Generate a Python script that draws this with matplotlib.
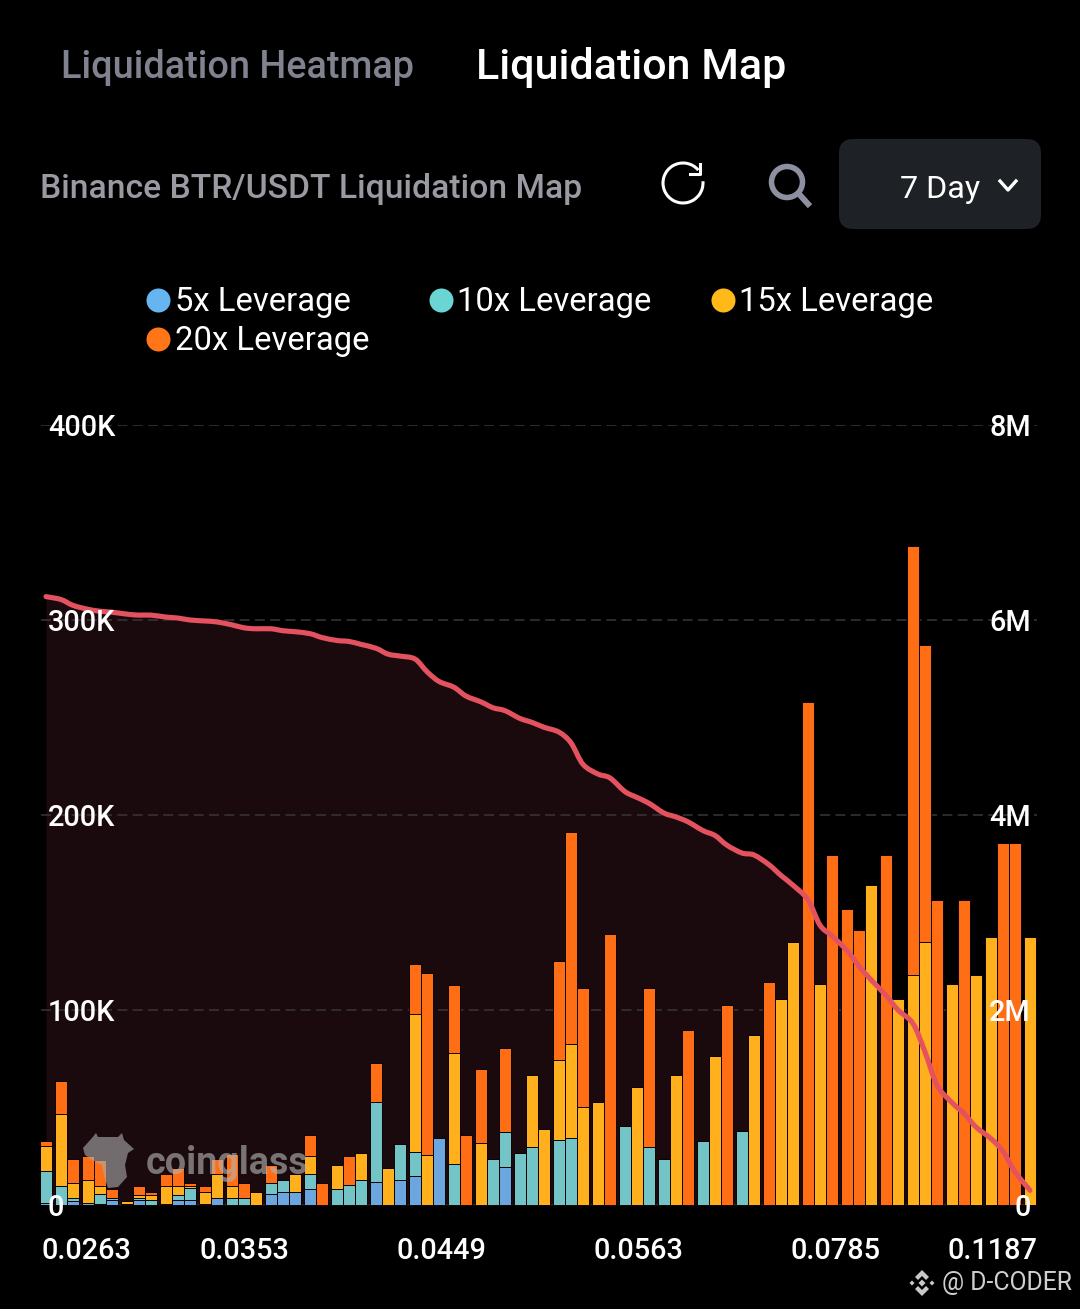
import numpy as np
import matplotlib
matplotlib.use('Agg')
import matplotlib.pyplot as plt
from matplotlib.lines import Line2D
from matplotlib.patches import Arc, Circle, FancyBboxPatch, PathPatch, Polygon
from matplotlib.path import Path

plt.rcParams['font.family'] = ['Roboto', 'DejaVu Sans']

# stack segment heights per price bucket, in thousands
lev5 = [0.9, 0, 2.0, 0.9, 0.7, 2.4, 0, 2.4, 0, 0, 2.4, 2.4, 0, 3.8, 0, 0, 0, 5.5, 6.8, 6.8,
        8.4, 0, 0, 0, 0, 11.6, 0, 13, 14.7, 0, 34.5, 0, 0, 0, 0, 19.3, 0, 0, 0, 0,
        0, 0, 0, 0, 0, 0, 0, 0, 0, 0, 0, 0, 0, 0, 0, 0, 0, 0, 0, 0,
        0, 0, 0, 0, 0, 0, 0, 0, 0, 0, 0, 0, 0, 0, 0, 0]
lev10 = [16.5, 9.7, 1.8, 0, 4.8, 1.4, 0.6, 1.4, 2.4, 0.7, 2.7, 6.1, 0.7, 0, 3.8, 3.8, 0, 6, 6, 0,
         7.7, 0, 8.4, 10.1, 13, 41.4, 0, 18.5, 12.3, 0, 0, 20.9, 0, 0, 23.8, 18.3, 26.8, 29.9, 0, 33.2,
         34.5, 0, 0, 0, 40.7, 0, 29.9, 23.8, 0, 0, 33, 0, 0, 37.7, 0, 0, 0, 0, 0, 0,
         0, 0, 0, 0, 0, 0, 0, 0, 0, 0, 0, 0, 0, 0, 0, 0]
lev15 = [12.7, 37.2, 7.7, 12.1, 4.2, 0, 1.4, 1.3, 2.7, 9, 4.6, 1.2, 6.1, 11.9, 5.9, 0, 6.8, 0, 0, 9.3,
         9, 0, 12.3, 0, 13.7, 0, 19.2, 0, 70.8, 25.5, 0, 56.9, 0, 31.6, 0, 0, 0, 37, 39.2, 41.4,
         47.9, 50.1, 52.8, 0, 0, 60.7, 0, 0, 66.9, 0, 0, 76.2, 0, 0, 87, 0, 105.5, 134.7, 0, 113.2,
         0, 0, 0, 163.9, 0, 105.5, 118, 134.9, 0, 113.2, 0, 118, 137.6, 0, 0, 137.6]
lev20 = [2.7, 16.7, 12.3, 12.1, 13.3, 4.2, 0, 4.6, 1.6, 6, 9.5, 1.8, 2.9, 7.7, 16.6, 7.7, 0, 9.2, 0, 0,
         10.8, 11.5, 0, 15, 0, 19.8, 0, 0, 26, 93.5, 0, 35.2, 36, 38.3, 0, 43.1, 0, 0, 0, 50.7,
         109.1, 61.4, 0, 139.2, 0, 0, 81.6, 0, 0, 89.8, 0, 0, 102.4, 0, 0, 114.6, 0, 0, 257.9, 0,
         179.4, 151.6, 140.8, 0, 179.4, 0, 220, 152.3, 156.2, 0, 156.2, 0, 0, 185.5, 185.5, 0]

# cumulative line, in millions
cumulative = [6.24, 6.21, 6.15, 6.11, 6.09, 6.08, 6.06, 6.05, 6.05, 6.03, 6.02, 6.00, 5.99, 5.98, 5.95, 5.92,
              5.91, 5.91, 5.89, 5.88, 5.86, 5.82, 5.79, 5.78, 5.75, 5.71, 5.65, 5.63, 5.60, 5.47, 5.37, 5.31,
              5.22, 5.16, 5.10, 5.07, 4.99, 4.95, 4.90, 4.85, 4.74, 4.52, 4.42, 4.38, 4.24, 4.18, 4.12, 4.02,
              3.98, 3.93, 3.84, 3.79, 3.69, 3.61, 3.59, 3.49, 3.38, 3.28, 3.13, 2.87, 2.76, 2.61, 2.45, 2.31,
              2.15, 2.00, 1.86, 1.57, 1.23, 1.05, 0.94, 0.80, 0.68, 0.55, 0.34, 0.15]

price_ticks = [3, 15, 30, 45, 60, 72]
price_labels = ['0.0263', '0.0353', '0.0449', '0.0563', '0.0785', '0.1187']
left_ticks = [0, 100, 200, 300, 400]
left_labels = ['0', '100K', '200K', '300K', '400K']
right_ticks = [0, 2, 4, 6, 8]
right_labels = ['0', '2M', '4M', '6M', '8M']
legend_names = ['5x Leverage', '20x Leverage', '10x Leverage', '15x Leverage']

bar_colors = ['#6CA6DE', '#72C4C6', '#FFB01C', '#FF6E14']
legend_colors = ['#66B5F0', '#FF7518', '#6AD5D3', '#FFBA1A']
line_color = '#E5525F'
W, H = 1080, 1309

fig = plt.figure(figsize=(W / 100, H / 100), dpi=100, facecolor='black')

# axes box in image pixels: x 41..1037, y 425..1205
ax = fig.add_axes([41 / W, 1 - 1205 / H, 996 / W, 780 / H], facecolor='black')

# bars sit on whole screen pixels (3 image px each), hence the uneven gaps
i = np.arange(len(lev5))
x = (np.floor(15.975 + 4.365 * i) * 3 + 1)

bottom = np.zeros(len(i))
for vals, col in zip([lev5, lev10, lev15, lev20], bar_colors):
    vals = np.array(vals, dtype=float)
    ax.bar(x, vals, width=12.2, bottom=bottom, color=col, edgecolor='#0c0305', linewidth=0.7, zorder=2)
    bottom += vals

line = np.array(cumulative)
ax.fill_between(x, line * 50, 0, color='#1a0a0d', lw=0, zorder=0.2)
ax.set_xlim(41, 1037)
ax.set_ylim(0, 400)
ax.set_yticks(left_ticks)
ax.set_yticklabels([])
ax.yaxis.grid(True, color='#3a3638', linestyle=(0, (6.5, 3.5)), linewidth=1.1)
ax.set_axisbelow(True)
# labels follow the even band centres, not the snapped bars
ax.set_xticks(47.5 + 13.13 * np.array(price_ticks))
ax.set_xticklabels(price_labels, fontsize=20.8, color='white', fontweight='medium')
ax.tick_params(axis='x', length=0, pad=23)
ax.tick_params(axis='y', length=0)
for s in ax.spines.values():
    s.set_visible(False)

ax2 = ax.twinx()
# smooth line like the original, it still goes through every point
pts = np.column_stack([x, line])
tang = np.gradient(pts, axis=0) / 3
verts = [pts[0]]
codes = [Path.MOVETO]
for k in range(len(pts) - 1):
    verts += [pts[k] + tang[k], pts[k + 1] - tang[k + 1], pts[k + 1]]
    codes += [Path.CURVE4, Path.CURVE4, Path.CURVE4]
ax2.add_patch(PathPatch(Path(verts, codes), fill=False, ec=line_color, lw=3.7, capstyle='round', joinstyle='round'))
ax2.set_ylim(0, 8)
ax2.set_yticks(right_ticks)
ax2.set_yticklabels(right_labels, fontsize=20.8, color='white', ha='right', fontweight='medium')
ax2.tick_params(axis='y', length=0, pad=-4.5)
for s in ax2.spines.values():
    s.set_visible(False)

ax3 = ax.twinx()
ax3.yaxis.tick_left()
ax3.set_ylim(0, 400)
ax3.set_yticks(left_ticks)
ax3.set_yticklabels(left_labels, fontsize=20.8, color='white', ha='left', fontweight='medium')
ax3.tick_params(axis='y', length=0, pad=-5)
for s in ax3.spines.values():
    s.set_visible(False)

# page furniture, drawn in image pixels
top = fig.add_axes([0, 0, 1, 1], facecolor='none')
top.set_xlim(0, W)
top.set_ylim(H, 0)
top.axis('off')

top.text(61, 67, 'Liquidation Heatmap', color='#80838F', fontsize=27.3, va='center', fontweight='medium')
top.text(476, 67, 'Liquidation Map', color='white', fontsize=31, va='center', fontweight='medium')
top.text(40, 189, 'Binance BTR/USDT Liquidation Map', color='#9A9AA2', fontsize=24.2, va='center', fontweight='medium')

# refresh icon
top.add_patch(Arc((683, 183), 40, 40, theta1=-5, theta2=320, color='white', lw=2.2))
top.add_line(Line2D([700, 700, 690], [164, 174, 174], color='white', lw=2.2))
# search icon
top.add_patch(Circle((787, 182), 15.5, fill=False, ec='#8C90A0', lw=4))
top.add_line(Line2D([799, 808], [194, 204], color='#8C90A0', lw=4.3))
# range button
top.add_patch(FancyBboxPatch((851, 151), 178, 66, boxstyle='round,pad=12,rounding_size=14', fc='#1E2125', ec='none'))
top.text(900, 189, '7 Day', color='white', fontsize=23.3, va='center')
top.add_line(Line2D([1000, 1008, 1016], [181, 190, 181], color='white', lw=2.4))

# legend
handles = [Line2D([], [], linestyle='none', marker='o', markersize=17.3, markeredgewidth=0, color=c) for c in legend_colors]
leg = top.legend(handles, legend_names, ncol=3, frameon=False, fontsize=23.6, labelcolor='white',
                 loc='upper left', bbox_to_anchor=(142 / W, 1 - 286 / H), borderaxespad=0, borderpad=0,
                 handlelength=1.0, handletextpad=0.0, columnspacing=1.68, labelspacing=0.22)

# watermark
bull = [(83, 1148), (92, 1138), (96, 1133), (98, 1137), (118, 1137), (122, 1133), (124, 1140), (134, 1149),
        (128, 1153), (125, 1165), (127, 1177), (118, 1187), (108, 1188), (104, 1176), (102, 1165), (92, 1160),
        (85, 1155)]
top.add_patch(Polygon(bull, closed=True, fc='#AAAAAA', ec='none', alpha=0.62))
top.text(146, 1164, 'coinglass', color='#B4B4B4', alpha=0.62, fontsize=27.2, va='center', fontweight='bold')

# footer tag, logo around its centre
cx, cy = 922, 1283
logo = [[(0, -13), (7, -6), (4, -3), (0, -7), (-4, -3), (-7, -6)],
        [(0, 13), (7, 6), (4, 3), (0, 7), (-4, 3), (-7, 6)],
        [(0, -3.5), (3.5, 0), (0, 3.5), (-3.5, 0)],
        [(-10, -2.5), (-7.5, 0), (-10, 2.5), (-12.5, 0)],
        [(10, -2.5), (12.5, 0), (10, 2.5), (7.5, 0)]]
for shape in logo:
    top.add_patch(Polygon([(cx + a, cy + b) for a, b in shape], closed=True, fc='#C8C8C8', ec='none'))
top.text(942, 1283, '@ D-CODER', color='#CFCFCF', fontsize=17.8, va='center')

fig.savefig('out.png', dpi=100, facecolor='black')
